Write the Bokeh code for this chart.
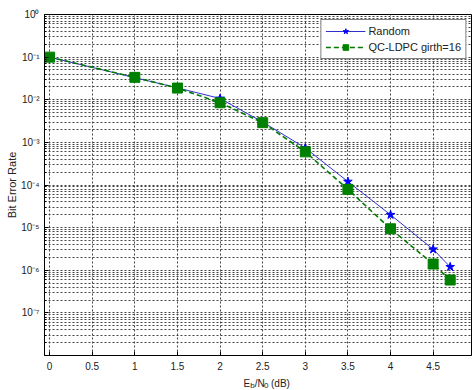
from bokeh.plotting import figure
from bokeh.layouts import column
from bokeh.models import Range1d, FixedTicker, Legend, LegendItem
from bokeh.core.properties import value
from bokeh.embed import file_html
from bokeh.resources import INLINE

# ---- data ----
ebn0_random = [0, 1, 1.5, 2, 2.5, 3, 3.5, 4, 4.5, 4.7]
ber_random = [0.1, 0.033, 0.019, 0.0107, 0.003, 7.4e-4, 1.2e-4, 2.0e-5, 3.1e-6, 1.2e-6]

ebn0_qc = [0, 1, 1.5, 2, 2.5, 3, 3.5, 4, 4.5, 4.7]
ber_qc = [0.1, 0.0335, 0.0188, 0.0085, 0.0029, 6.0e-4, 7.9e-5, 9.4e-6, 1.4e-6, 5.9e-7]

x_ticks = [0, 0.5, 1, 1.5, 2, 2.5, 3, 3.5, 4, 4.5]
x_tick_labels = ["0", "0.5", "1", "1.5", "2", "2.5", "3", "3.5", "4", "4.5"]
y_ticks = [1.0, 1e-1, 1e-2, 1e-3, 1e-4, 1e-5, 1e-6, 1e-7]
y_tick_labels = ["10\u2070", "10\u207b\u00b9", "10\u207b\u00b2", "10\u207b\u00b3",
                 "10\u207b\u2074", "10\u207b\u2075", "10\u207b\u2076", "10\u207b\u2077"]
series_names = ["Random", "QC-LDPC girth=16"]
y_label = "Bit Error Rate"
# x-axis label E_b/N_0 (dB), split into normal / subscript pieces
x_label_parts = ["E", "b", "/N", "0", "(dB)"]
x_label_is_sub = [False, True, False, True, False]

FONT = "Liberation Sans"
TXT = "#222222"

p = figure(width=474, height=373, y_axis_type="log",
           x_range=Range1d(-0.06, 4.95), y_range=Range1d(1e-8, 1.0),
           output_backend="svg", toolbar_location=None,
           min_border_left=44, min_border_right=3, min_border_top=14, min_border_bottom=18)

p.background_fill_color = "white"
p.border_fill_color = "white"
p.outline_line_color = "black"
p.outline_line_width = 1

# axes
p.xaxis.ticker = FixedTicker(ticks=x_ticks)
p.xaxis.major_label_overrides = {float(t): l for t, l in zip(x_ticks, x_tick_labels)}
minor_y = [m * 10.0 ** e for e in range(-8, 0) for m in range(2, 10)]
p.yaxis.ticker = FixedTicker(ticks=y_ticks, minor_ticks=minor_y)
p.yaxis.major_label_overrides = {t: l for t, l in zip(y_ticks, y_tick_labels)}

for ax in (p.xaxis, p.yaxis):
    ax.axis_line_color = "black"
    ax.major_tick_in = 4
    ax.major_tick_out = 0
    ax.minor_tick_in = 2
    ax.minor_tick_out = 0
    ax.major_tick_line_color = "black"
    ax.minor_tick_line_color = "black"
    ax.major_label_text_font = FONT
    ax.major_label_text_font_size = "10px"
    ax.major_label_text_color = TXT
    ax.axis_label_text_font = FONT
    ax.axis_label_text_font_style = "normal"
    ax.axis_label_text_color = TXT

p.xaxis.major_label_standoff = 6
p.yaxis.major_label_standoff = 5
p.yaxis.axis_label = y_label
p.yaxis.axis_label_text_font_size = "11px"
p.yaxis.axis_label_standoff = 0

# grid
p.xgrid.ticker = FixedTicker(ticks=x_ticks)
p.ygrid.ticker = FixedTicker(ticks=y_ticks, minor_ticks=minor_y)
for g in (p.xgrid, p.ygrid):
    g.grid_line_color = "#444444"
    g.grid_line_dash = "2 2"
    g.grid_line_width = 1
p.ygrid.minor_grid_line_color = "#444444"
p.ygrid.minor_grid_line_dash = "2 2"

# series
r1 = p.line(ebn0_random, ber_random, line_color="#3030d0", line_width=1)
s1 = p.scatter(ebn0_random, ber_random, marker="star", size=9,
               fill_color="#0000ff", line_color="#0000ff")
r2 = p.line(ebn0_qc, ber_qc, line_color="#007a00", line_width=1.6, line_dash="5 3")
s2 = p.scatter(ebn0_qc, ber_qc, marker="square", size=10,
               fill_color="#008000", line_color="#008000")

legend = Legend(items=[LegendItem(label=series_names[0], renderers=[r1, s1]),
                       LegendItem(label=series_names[1], renderers=[r2, s2])],
                location="top_right")
legend.label_text_font = FONT
legend.label_text_font_size = "11px"
legend.label_text_color = TXT
legend.glyph_width = 40
legend.glyph_height = 14
legend.label_height = 14
legend.label_standoff = 3
legend.padding = 4
legend.spacing = 2
legend.margin = 5
legend.border_line_color = "black"
legend.border_line_width = 1
legend.background_fill_alpha = 1.0
p.add_layout(legend)

# second strip holding the x-axis title (with subscripts), sharing the x range
p2 = figure(width=474, height=17, x_range=p.x_range, y_range=Range1d(0, 17),
            output_backend="svg", toolbar_location=None,
            min_border_left=44, min_border_right=3, min_border_top=0, min_border_bottom=0)
p2.axis.visible = False
p2.grid.visible = False
p2.outline_line_color = None
p2.background_fill_color = "white"
p2.border_fill_color = "white"

# place pieces one after another (pixel advance converted to axis units)
px_per_unit = 427 / (4.95 + 0.06)
start_x = (243 - 49) / px_per_unit
advance_px = [6.7, 4.5, 9.2, 7.0, 0]
xs, ys, sizes = [], [], []
cur = start_x
for part, sub, w in zip(x_label_parts, x_label_is_sub, advance_px):
    xs.append(cur)
    ys.append(5.0 if sub else 7.5)
    sizes.append("8px" if sub else "10px")
    cur += w / px_per_unit
p2.text(x=xs, y=ys, text=x_label_parts, text_font=value(FONT), text_font_size=sizes,
        text_color=TXT, text_baseline="alphabetic", text_align="left")

layout = column(p, p2, spacing=0)
open("out.html", "w").write(file_html(layout, INLINE))
